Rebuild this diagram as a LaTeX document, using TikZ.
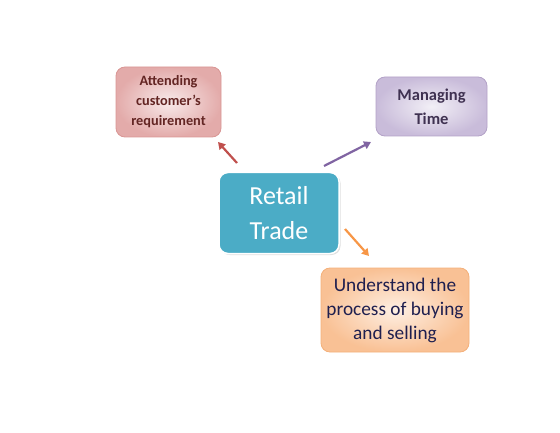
\documentclass[tikz,border=0pt]{standalone}
\usepackage{fontspec}
\setmainfont{Carlito}
\usetikzlibrary{arrows.meta,shadows}
\definecolor{pinkin}{HTML}{F8EAEA}
\definecolor{pinkout}{HTML}{E3ABAA}
\definecolor{pinkbd}{HTML}{D99694}
\definecolor{pinktxt}{HTML}{632523}
\definecolor{purpin}{HTML}{F2EFF6}
\definecolor{purpout}{HTML}{C9BCDA}
\definecolor{purpbd}{HTML}{B3A2C7}
\definecolor{purptxt}{HTML}{3F3151}
\definecolor{orin}{HTML}{FEEFE3}
\definecolor{orout}{HTML}{F9C195}
\definecolor{orbd}{HTML}{F4B07A}
\definecolor{ortxt}{HTML}{1F1F4F}
\definecolor{teal}{HTML}{4BACC6}
\definecolor{arpink}{HTML}{C0504D}
\definecolor{arpurp}{HTML}{8064A2}
\definecolor{aror}{HTML}{F79646}
\tikzset{
  box/.style={rounded corners=9pt, align=center, inner sep=0pt, line width=0.8pt},
  arr/.style={line width=2.2pt, -{Triangle[length=7pt,width=8pt]}}
}
\begin{document}
\begin{tikzpicture}[x=1pt,y=-1pt]
\useasboundingbox (0,0) rectangle (560,433);
\node[box, draw=pinkbd, minimum width=105pt, minimum height=70pt, shading=radial, inner color=pinkin, outer color=pinkout, text=pinktxt, font=\bfseries\fontsize{14.3}{20}\selectfont] (att) at (168.5,102) {Attending\\customer’s\\requirement};
\node[box, draw=purpbd, minimum width=111pt, minimum height=59pt, shading=radial, inner color=purpin, outer color=purpout, text=purptxt, font=\bfseries\fontsize{16.5}{24}\selectfont] (man) at (431.5,106.5) {Managing\\Time};
\node[box, draw=white, minimum width=120pt, minimum height=81pt, fill=teal, text=white, line width=1.5pt, drop shadow={opacity=0.25, shadow xshift=1.5pt, shadow yshift=-1.5pt}, font=\fontsize{26}{35}\selectfont] (ret) at (279,213) {Retail\\Trade};
\node[box, draw=orbd, minimum width=148pt, minimum height=84pt, shading=radial, inner color=orin, outer color=orout, text=ortxt, font=\fontsize{19.3}{24}\selectfont] (und) at (395,310) {Understand the\\process of buying\\and selling};
\coordinate (a1) at (237,163); \coordinate (a2) at (218,142);
\coordinate (b1) at (324,166); \coordinate (b2) at (371,142);
\coordinate (c1) at (345,229); \coordinate (c2) at (369,256);
\draw[arr, arpink] (a1) -- (a2);
\draw[arr, arpurp] (b1) -- (b2);
\draw[arr, aror] (c1) -- (c2);
\end{tikzpicture}
\end{document}
